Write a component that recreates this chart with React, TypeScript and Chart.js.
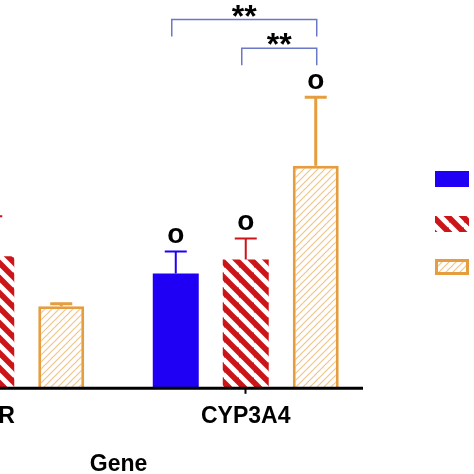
import React, { useEffect, useRef } from 'react'
import { Chart, registerables } from 'chart.js'

Chart.register(...registerables)

const genes = ['PXR', 'CYP3A4']
const seriesLabels = ['Series 1', 'Series 2', 'Series 3']

const blueValues = [1.45, 1.4]
const blueErrors = [0.2, 0.27]
const redValues = [1.61, 1.57]
const redErrors = [0.49, 0.26]
const orangeValues = [1.0, 2.72]
const orangeErrors = [0.03, 0.84]

// 'o' marks over the error bars
const blueMarks = [false, true]
const redMarks = [true, true]
const orangeMarks = [false, true]

// significance brackets
const brackets = [
  { gene: 1, from: 0, to: 2, level: 4.51, label: '**' },
  { gene: 1, from: 1, to: 2, level: 4.16, label: '**' },
]

const FONT = 'Arial, "Liberation Sans", sans-serif'
const BLUE = '#1f00f5'
const RED = '#cc1518'
const ORANGE = '#e59d3e'
const HATCH = '#f0c58c'

function stripes() {
  const s = 15
  const c = document.createElement('canvas')
  c.width = s
  c.height = s
  const g = c.getContext('2d')!
  g.fillStyle = RED
  g.fillRect(0, 0, s, s)
  g.strokeStyle = '#fff'
  g.lineWidth = 5
  for (const o of [-s, 0, s]) {
    g.beginPath()
    g.moveTo(-1, o - 1)
    g.lineTo(s + 1, s + o + 1)
    g.stroke()
  }
  return g.createPattern(c, 'repeat')!
}

function hatch() {
  const t = 7
  const c = document.createElement('canvas')
  c.width = t
  c.height = t
  const g = c.getContext('2d')!
  g.fillStyle = '#fff'
  g.fillRect(0, 0, t, t)
  g.strokeStyle = HATCH
  g.lineWidth = 1.2
  for (const o of [0, t, 2 * t]) {
    g.beginPath()
    g.moveTo(-1, o + 1)
    g.lineTo(t + 1, o - t - 1)
    g.stroke()
  }
  return g.createPattern(c, 'repeat')!
}

const errors = [blueErrors, redErrors, orangeErrors]
const marks = [blueMarks, redMarks, orangeMarks]
const lineColors = [BLUE, RED, ORANGE]
const lineWidths = [2, 2, 3]

const errorBars = {
  id: 'errorBars',
  afterDatasetsDraw(chart: any) {
    const { ctx } = chart
    const y = chart.scales.y
    chart.data.datasets.forEach((ds: any, i: number) => {
      const meta = chart.getDatasetMeta(i)
      meta.data.forEach((bar: any, j: number) => {
        const top = y.getPixelForValue(ds.data[j] + errors[i][j])
        ctx.save()
        ctx.strokeStyle = lineColors[i]
        ctx.lineWidth = lineWidths[i]
        ctx.beginPath()
        ctx.moveTo(bar.x, bar.y)
        ctx.lineTo(bar.x, top)
        ctx.moveTo(bar.x - 11, top)
        ctx.lineTo(bar.x + 11, top)
        ctx.stroke()
        if (marks[i][j]) {
          ctx.fillStyle = '#000'
          ctx.font = 'bold 28px ' + FONT
          ctx.textAlign = 'center'
          ctx.textBaseline = 'alphabetic'
          ctx.fillText('o', bar.x, top - 8)
        }
        ctx.restore()
      })
    })
  },
}

const sigBrackets = {
  id: 'sigBrackets',
  afterDatasetsDraw(chart: any) {
    const { ctx } = chart
    const y = chart.scales.y
    brackets.forEach((b) => {
      const x1 = chart.getDatasetMeta(b.from).data[b.gene].x - 4
      const x2 = chart.getDatasetMeta(b.to).data[b.gene].x + 1
      const yl = y.getPixelForValue(b.level)
      ctx.save()
      ctx.strokeStyle = '#6b78c8'
      ctx.lineWidth = 1.5
      ctx.beginPath()
      ctx.moveTo(x1, yl + 17)
      ctx.lineTo(x1, yl)
      ctx.lineTo(x2, yl)
      ctx.lineTo(x2, yl + 17)
      ctx.stroke()
      ctx.fillStyle = '#000'
      ctx.font = 'bold 32px ' + FONT
      ctx.textAlign = 'center'
      ctx.textBaseline = 'alphabetic'
      ctx.fillText(b.label, (x1 + x2) / 2, yl + 7)
      ctx.restore()
    })
  },
}

// x axis line, a little shorter than the plot area
const baseline = {
  id: 'baseline',
  afterDatasetsDraw(chart: any) {
    const { ctx, chartArea } = chart
    ctx.save()
    ctx.strokeStyle = '#000'
    ctx.lineWidth = 3
    ctx.beginPath()
    ctx.moveTo(chartArea.left, chartArea.bottom + 0.5)
    ctx.lineTo(chartArea.right - 10, chartArea.bottom + 0.5)
    ctx.stroke()
    ctx.restore()
  },
}

const sideLegend = {
  id: 'sideLegend',
  afterDraw(chart: any) {
    const { ctx, chartArea } = chart
    const tops = [171, 216, 259]
    chart.data.datasets.forEach((ds: any, i: number) => {
      const x = chartArea.right + 62
      const yy = chartArea.top + tops[i]
      ctx.save()
      ctx.fillStyle = ds.backgroundColor
      ctx.fillRect(x, yy, 34, 16)
      if (ds.borderWidth) {
        ctx.strokeStyle = ds.borderColor
        ctx.lineWidth = ds.borderWidth
        ctx.strokeRect(x + 1.5, yy + 1.5, 31, 13)
      }
      ctx.fillStyle = '#000'
      ctx.font = 'bold 20px ' + FONT
      ctx.textBaseline = 'middle'
      ctx.fillText(ds.label, x + 46, yy + 8)
      ctx.restore()
    })
  },
}

const App = () => {
  const chartRef = useRef<HTMLCanvasElement>(null)

  useEffect(() => {
    if (!chartRef.current) return
    const ctx = chartRef.current.getContext('2d')
    if (!ctx) return

    const common = { categoryPercentage: 0.825, barPercentage: 0.657 }

    const chart = new Chart(ctx, {
      type: 'bar',
      data: {
        labels: genes,
        datasets: [
          { ...common, label: seriesLabels[0], data: blueValues, backgroundColor: BLUE, borderWidth: 0 },
          { ...common, label: seriesLabels[1], data: redValues, backgroundColor: stripes(), borderWidth: 0 },
          {
            ...common,
            label: seriesLabels[2],
            data: orangeValues,
            backgroundColor: hatch(),
            borderColor: ORANGE,
            borderWidth: 3,
          },
        ],
      },
      options: {
        animation: false,
        responsive: true,
        maintainAspectRatio: false,
        layout: { padding: { left: 0, right: 111, top: 0, bottom: 5 } },
        plugins: {
          legend: { display: false },
          tooltip: { enabled: false },
        },
        scales: {
          x: {
            grid: {
              drawOnChartArea: false,
              offset: false,
              tickLength: 6,
              tickWidth: 2,
              tickColor: '#000',
            },
            border: { display: false },
            ticks: {
              color: '#000',
              padding: 9,
              font: { family: FONT, size: 23, weight: 'bold' },
            },
            title: {
              display: true,
              text: 'Gene',
              color: '#000',
              padding: { top: 11, bottom: 0 },
              font: { family: FONT, size: 23, weight: 'bold' },
            },
          },
          y: { display: false, min: 0, max: 4.75 },
        },
      },
      plugins: [errorBars, sigBrackets, baseline, sideLegend],
    })

    return () => {
      chart.destroy()
    }
  }, [])

  return (
    <div style={{ position: 'fixed', inset: 0, overflow: 'hidden', background: '#fff' }}>
      <div style={{ position: 'absolute', left: -136, top: 0, width: 620, height: 483 }}>
        <canvas ref={chartRef} />
      </div>
    </div>
  )
}

export default App
